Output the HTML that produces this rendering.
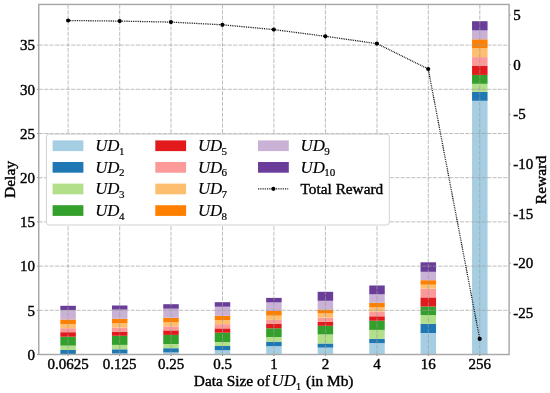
<!DOCTYPE html>
<html><head><meta charset="utf-8"><title>Delay and Reward vs Data Size</title>
<style>html,body{margin:0;padding:0;background:#fff}svg{display:block}text{font-family:"Liberation Serif", serif;font-size:15.0px;fill:#000;stroke:#000;stroke-width:0.4}.it{font-style:italic;stroke-width:0.15}.lg{font-size:15.3px}.sub{font-size:11.0px;stroke-width:0.2}.ax{font-size:15.6px}.xl{font-size:15.4px}.it.lg{font-size:15.9px}.it.xl{font-size:16px}</style></head><body>
<svg width="550" height="393" viewBox="0 0 550 393">
<rect width="550" height="393" fill="#fff"/>
<g>
<rect x="60.35" y="354.00" width="15.50" height="0.50" fill="#a6cee3"/>
<rect x="60.35" y="350.00" width="15.50" height="4.00" fill="#1f78b4"/>
<rect x="60.35" y="345.60" width="15.50" height="4.40" fill="#b2df8a"/>
<rect x="60.35" y="336.70" width="15.50" height="8.90" fill="#33a02c"/>
<rect x="60.35" y="332.20" width="15.50" height="4.50" fill="#e31a1c"/>
<rect x="60.35" y="328.20" width="15.50" height="4.00" fill="#fb9a99"/>
<rect x="60.35" y="324.00" width="15.50" height="4.20" fill="#fdbf6f"/>
<rect x="60.35" y="319.50" width="15.50" height="4.50" fill="#ff7f00"/>
<rect x="60.35" y="310.00" width="15.50" height="9.50" fill="#cab2d6"/>
<rect x="60.35" y="305.80" width="15.50" height="4.20" fill="#6a3d9a"/>
<rect x="111.95" y="353.50" width="15.50" height="1.00" fill="#a6cee3"/>
<rect x="111.95" y="349.30" width="15.50" height="4.20" fill="#1f78b4"/>
<rect x="111.95" y="344.90" width="15.50" height="4.40" fill="#b2df8a"/>
<rect x="111.95" y="335.80" width="15.50" height="9.10" fill="#33a02c"/>
<rect x="111.95" y="331.60" width="15.50" height="4.20" fill="#e31a1c"/>
<rect x="111.95" y="327.50" width="15.50" height="4.10" fill="#fb9a99"/>
<rect x="111.95" y="323.30" width="15.50" height="4.20" fill="#fdbf6f"/>
<rect x="111.95" y="318.70" width="15.50" height="4.60" fill="#ff7f00"/>
<rect x="111.95" y="309.60" width="15.50" height="9.10" fill="#cab2d6"/>
<rect x="111.95" y="305.50" width="15.50" height="4.10" fill="#6a3d9a"/>
<rect x="163.25" y="352.40" width="15.50" height="2.10" fill="#a6cee3"/>
<rect x="163.25" y="348.20" width="15.50" height="4.20" fill="#1f78b4"/>
<rect x="163.25" y="344.00" width="15.50" height="4.20" fill="#b2df8a"/>
<rect x="163.25" y="334.90" width="15.50" height="9.10" fill="#33a02c"/>
<rect x="163.25" y="330.40" width="15.50" height="4.50" fill="#e31a1c"/>
<rect x="163.25" y="326.40" width="15.50" height="4.00" fill="#fb9a99"/>
<rect x="163.25" y="322.40" width="15.50" height="4.00" fill="#fdbf6f"/>
<rect x="163.25" y="317.80" width="15.50" height="4.60" fill="#ff7f00"/>
<rect x="163.25" y="308.70" width="15.50" height="9.10" fill="#cab2d6"/>
<rect x="163.25" y="304.20" width="15.50" height="4.50" fill="#6a3d9a"/>
<rect x="214.75" y="350.20" width="15.50" height="4.30" fill="#a6cee3"/>
<rect x="214.75" y="346.00" width="15.50" height="4.20" fill="#1f78b4"/>
<rect x="214.75" y="342.00" width="15.50" height="4.00" fill="#b2df8a"/>
<rect x="214.75" y="332.70" width="15.50" height="9.30" fill="#33a02c"/>
<rect x="214.75" y="328.40" width="15.50" height="4.30" fill="#e31a1c"/>
<rect x="214.75" y="324.20" width="15.50" height="4.20" fill="#fb9a99"/>
<rect x="214.75" y="320.00" width="15.50" height="4.20" fill="#fdbf6f"/>
<rect x="214.75" y="315.80" width="15.50" height="4.20" fill="#ff7f00"/>
<rect x="214.75" y="306.70" width="15.50" height="9.10" fill="#cab2d6"/>
<rect x="214.75" y="302.20" width="15.50" height="4.50" fill="#6a3d9a"/>
<rect x="266.15" y="346.20" width="15.50" height="8.30" fill="#a6cee3"/>
<rect x="266.15" y="341.70" width="15.50" height="4.50" fill="#1f78b4"/>
<rect x="266.15" y="337.00" width="15.50" height="4.70" fill="#b2df8a"/>
<rect x="266.15" y="328.30" width="15.50" height="8.70" fill="#33a02c"/>
<rect x="266.15" y="324.00" width="15.50" height="4.30" fill="#e31a1c"/>
<rect x="266.15" y="319.90" width="15.50" height="4.10" fill="#fb9a99"/>
<rect x="266.15" y="315.60" width="15.50" height="4.30" fill="#fdbf6f"/>
<rect x="266.15" y="311.00" width="15.50" height="4.60" fill="#ff7f00"/>
<rect x="266.15" y="302.40" width="15.50" height="8.60" fill="#cab2d6"/>
<rect x="266.15" y="297.90" width="15.50" height="4.50" fill="#6a3d9a"/>
<rect x="317.65" y="347.60" width="15.50" height="6.90" fill="#a6cee3"/>
<rect x="317.65" y="343.50" width="15.50" height="4.10" fill="#1f78b4"/>
<rect x="317.65" y="334.40" width="15.50" height="9.10" fill="#b2df8a"/>
<rect x="317.65" y="325.80" width="15.50" height="8.60" fill="#33a02c"/>
<rect x="317.65" y="321.80" width="15.50" height="4.00" fill="#e31a1c"/>
<rect x="317.65" y="317.70" width="15.50" height="4.10" fill="#fb9a99"/>
<rect x="317.65" y="313.40" width="15.50" height="4.30" fill="#fdbf6f"/>
<rect x="317.65" y="309.50" width="15.50" height="3.90" fill="#ff7f00"/>
<rect x="317.65" y="300.80" width="15.50" height="8.70" fill="#cab2d6"/>
<rect x="317.65" y="291.80" width="15.50" height="9.00" fill="#6a3d9a"/>
<rect x="369.25" y="343.10" width="15.50" height="11.40" fill="#a6cee3"/>
<rect x="369.25" y="338.90" width="15.50" height="4.20" fill="#1f78b4"/>
<rect x="369.25" y="329.90" width="15.50" height="9.00" fill="#b2df8a"/>
<rect x="369.25" y="320.70" width="15.50" height="9.20" fill="#33a02c"/>
<rect x="369.25" y="316.30" width="15.50" height="4.40" fill="#e31a1c"/>
<rect x="369.25" y="311.60" width="15.50" height="4.70" fill="#fb9a99"/>
<rect x="369.25" y="307.30" width="15.50" height="4.30" fill="#fdbf6f"/>
<rect x="369.25" y="302.80" width="15.50" height="4.50" fill="#ff7f00"/>
<rect x="369.25" y="294.30" width="15.50" height="8.50" fill="#cab2d6"/>
<rect x="369.25" y="285.50" width="15.50" height="8.80" fill="#6a3d9a"/>
<rect x="420.55" y="333.00" width="15.50" height="21.50" fill="#a6cee3"/>
<rect x="420.55" y="323.90" width="15.50" height="9.10" fill="#1f78b4"/>
<rect x="420.55" y="315.10" width="15.50" height="8.80" fill="#b2df8a"/>
<rect x="420.55" y="306.50" width="15.50" height="8.60" fill="#33a02c"/>
<rect x="420.55" y="297.40" width="15.50" height="9.10" fill="#e31a1c"/>
<rect x="420.55" y="288.60" width="15.50" height="8.80" fill="#fb9a99"/>
<rect x="420.55" y="284.70" width="15.50" height="3.90" fill="#fdbf6f"/>
<rect x="420.55" y="280.20" width="15.50" height="4.50" fill="#ff7f00"/>
<rect x="420.55" y="271.80" width="15.50" height="8.40" fill="#cab2d6"/>
<rect x="420.55" y="262.30" width="15.50" height="9.50" fill="#6a3d9a"/>
<rect x="472.05" y="100.80" width="15.50" height="253.70" fill="#a6cee3"/>
<rect x="472.05" y="91.90" width="15.50" height="8.90" fill="#1f78b4"/>
<rect x="472.05" y="83.80" width="15.50" height="8.10" fill="#b2df8a"/>
<rect x="472.05" y="74.90" width="15.50" height="8.90" fill="#33a02c"/>
<rect x="472.05" y="66.00" width="15.50" height="8.90" fill="#e31a1c"/>
<rect x="472.05" y="57.10" width="15.50" height="8.90" fill="#fb9a99"/>
<rect x="472.05" y="48.20" width="15.50" height="8.90" fill="#fdbf6f"/>
<rect x="472.05" y="39.30" width="15.50" height="8.90" fill="#ff7f00"/>
<rect x="472.05" y="30.40" width="15.50" height="8.90" fill="#cab2d6"/>
<rect x="472.05" y="21.20" width="15.50" height="9.20" fill="#6a3d9a"/>
</g>
<g stroke="#9c9c9c" stroke-width="0.7" stroke-dasharray="4.1 1.3" fill="none" opacity="0.95">
<line x1="68.10" y1="354.50" x2="68.10" y2="4.45"/>
<line x1="119.70" y1="354.50" x2="119.70" y2="4.45"/>
<line x1="171.00" y1="354.50" x2="171.00" y2="4.45"/>
<line x1="222.50" y1="354.50" x2="222.50" y2="4.45"/>
<line x1="273.90" y1="354.50" x2="273.90" y2="4.45"/>
<line x1="325.40" y1="354.50" x2="325.40" y2="4.45"/>
<line x1="377.00" y1="354.50" x2="377.00" y2="4.45"/>
<line x1="428.30" y1="354.50" x2="428.30" y2="4.45"/>
<line x1="479.80" y1="354.50" x2="479.80" y2="4.45"/>
<line x1="38.75" y1="354.50" x2="509.10" y2="354.50"/>
<line x1="38.75" y1="310.30" x2="509.10" y2="310.30"/>
<line x1="38.75" y1="266.10" x2="509.10" y2="266.10"/>
<line x1="38.75" y1="221.90" x2="509.10" y2="221.90"/>
<line x1="38.75" y1="177.70" x2="509.10" y2="177.70"/>
<line x1="38.75" y1="133.50" x2="509.10" y2="133.50"/>
<line x1="38.75" y1="89.30" x2="509.10" y2="89.30"/>
<line x1="38.75" y1="45.10" x2="509.10" y2="45.10"/>
</g>
<g stroke="#777" stroke-width="1" fill="none">
<line x1="68.10" y1="354.50" x2="68.10" y2="356.00"/>
<line x1="119.70" y1="354.50" x2="119.70" y2="356.00"/>
<line x1="171.00" y1="354.50" x2="171.00" y2="356.00"/>
<line x1="222.50" y1="354.50" x2="222.50" y2="356.00"/>
<line x1="273.90" y1="354.50" x2="273.90" y2="356.00"/>
<line x1="325.40" y1="354.50" x2="325.40" y2="356.00"/>
<line x1="377.00" y1="354.50" x2="377.00" y2="356.00"/>
<line x1="428.30" y1="354.50" x2="428.30" y2="356.00"/>
<line x1="479.80" y1="354.50" x2="479.80" y2="356.00"/>
<line x1="37.25" y1="354.50" x2="38.75" y2="354.50"/>
<line x1="37.25" y1="310.30" x2="38.75" y2="310.30"/>
<line x1="37.25" y1="266.10" x2="38.75" y2="266.10"/>
<line x1="37.25" y1="221.90" x2="38.75" y2="221.90"/>
<line x1="37.25" y1="177.70" x2="38.75" y2="177.70"/>
<line x1="37.25" y1="133.50" x2="38.75" y2="133.50"/>
<line x1="37.25" y1="89.30" x2="38.75" y2="89.30"/>
<line x1="37.25" y1="45.10" x2="38.75" y2="45.10"/>
<line x1="509.10" y1="14.95" x2="510.60" y2="14.95"/>
<line x1="509.10" y1="64.60" x2="510.60" y2="64.60"/>
<line x1="509.10" y1="114.25" x2="510.60" y2="114.25"/>
<line x1="509.10" y1="163.90" x2="510.60" y2="163.90"/>
<line x1="509.10" y1="213.55" x2="510.60" y2="213.55"/>
<line x1="509.10" y1="263.20" x2="510.60" y2="263.20"/>
<line x1="509.10" y1="312.85" x2="510.60" y2="312.85"/>
</g>
<path d="M68.10 20.50 L119.70 21.10 L170.90 22.10 L222.40 24.80 L273.80 29.60 L325.40 36.30 L376.90 43.60 L428.20 69.00 L479.70 338.90" stroke="#000" stroke-width="1.3" stroke-dasharray="0.85 0.95" fill="none"/>
<circle cx="68.10" cy="20.50" r="2.1" fill="#000"/>
<circle cx="119.70" cy="21.10" r="2.1" fill="#000"/>
<circle cx="170.90" cy="22.10" r="2.1" fill="#000"/>
<circle cx="222.40" cy="24.80" r="2.1" fill="#000"/>
<circle cx="273.80" cy="29.60" r="2.1" fill="#000"/>
<circle cx="325.40" cy="36.30" r="2.1" fill="#000"/>
<circle cx="376.90" cy="43.60" r="2.1" fill="#000"/>
<circle cx="428.20" cy="69.00" r="2.1" fill="#000"/>
<circle cx="479.70" cy="338.90" r="2.1" fill="#000"/>
<rect x="38.75" y="4.45" width="470.35" height="350.05" fill="none" stroke="#a8a8a8" stroke-width="1.45"/>
<text x="68.10" y="369.40" text-anchor="middle">0.0625</text>
<text x="119.70" y="369.40" text-anchor="middle">0.125</text>
<text x="171.00" y="369.40" text-anchor="middle">0.25</text>
<text x="222.50" y="369.40" text-anchor="middle">0.5</text>
<text x="273.90" y="369.40" text-anchor="middle">1</text>
<text x="325.40" y="369.40" text-anchor="middle">2</text>
<text x="377.00" y="369.40" text-anchor="middle">4</text>
<text x="428.30" y="369.40" text-anchor="middle">16</text>
<text x="479.80" y="369.40" text-anchor="middle">256</text>
<text x="35.00" y="359.80" text-anchor="end">0</text>
<text x="35.00" y="315.60" text-anchor="end">5</text>
<text x="35.00" y="271.40" text-anchor="end">10</text>
<text x="35.00" y="227.20" text-anchor="end">15</text>
<text x="35.00" y="183.00" text-anchor="end">20</text>
<text x="35.00" y="138.80" text-anchor="end">25</text>
<text x="35.00" y="94.60" text-anchor="end">30</text>
<text x="35.00" y="50.40" text-anchor="end">35</text>
<text x="513.20" y="20.15">5</text>
<text x="513.20" y="69.80">0</text>
<text x="513.20" y="119.45">-5</text>
<text x="513.20" y="169.10">-10</text>
<text x="513.20" y="218.75">-15</text>
<text x="513.20" y="268.40">-20</text>
<text x="513.20" y="318.05">-25</text>
<text class="ax" transform="translate(14.6 179.5) rotate(-90)" text-anchor="middle">Delay</text>
<text class="ax" transform="translate(546.4 180) rotate(-90)" text-anchor="middle">Reward</text>
<text class="xl" x="193.8" y="386.2" >Data Size of</text>
<text class="it xl" transform="translate(271.40 386.20) scale(1.060 1)">UD</text>
<text class="sub" x="295.70" y="389.90">1</text>
<text class="xl" x="306.0" y="386.2">(in Mb)</text>
<rect x="46.4" y="134.2" width="342.9" height="90.8" rx="2.8" ry="2.8" fill="#fff" stroke="#d2d2d2" stroke-width="1"/>
<rect x="52.60" y="140.40" width="30.8" height="10.7" fill="#a6cee3"/>
<text class="it lg" transform="translate(95.20 151.10) scale(1.060 1)">UD</text>
<text class="sub" x="118.90" y="154.80">1</text>
<rect x="52.60" y="162.00" width="30.8" height="10.7" fill="#1f78b4"/>
<text class="it lg" transform="translate(95.20 172.70) scale(1.060 1)">UD</text>
<text class="sub" x="118.90" y="176.40">2</text>
<rect x="52.60" y="183.60" width="30.8" height="10.7" fill="#b2df8a"/>
<text class="it lg" transform="translate(95.20 194.30) scale(1.060 1)">UD</text>
<text class="sub" x="118.90" y="198.00">3</text>
<rect x="52.60" y="205.20" width="30.8" height="10.7" fill="#33a02c"/>
<text class="it lg" transform="translate(95.20 215.90) scale(1.060 1)">UD</text>
<text class="sub" x="118.90" y="219.60">4</text>
<rect x="155.30" y="140.40" width="30.8" height="10.7" fill="#e31a1c"/>
<text class="it lg" transform="translate(197.90 151.10) scale(1.060 1)">UD</text>
<text class="sub" x="221.60" y="154.80">5</text>
<rect x="155.30" y="162.00" width="30.8" height="10.7" fill="#fb9a99"/>
<text class="it lg" transform="translate(197.90 172.70) scale(1.060 1)">UD</text>
<text class="sub" x="221.60" y="176.40">6</text>
<rect x="155.30" y="183.60" width="30.8" height="10.7" fill="#fdbf6f"/>
<text class="it lg" transform="translate(197.90 194.30) scale(1.060 1)">UD</text>
<text class="sub" x="221.60" y="198.00">7</text>
<rect x="155.30" y="205.20" width="30.8" height="10.7" fill="#ff7f00"/>
<text class="it lg" transform="translate(197.90 215.90) scale(1.060 1)">UD</text>
<text class="sub" x="221.60" y="219.60">8</text>
<rect x="258.00" y="140.40" width="30.8" height="10.7" fill="#cab2d6"/>
<text class="it lg" transform="translate(300.60 151.10) scale(1.060 1)">UD</text>
<text class="sub" x="324.30" y="154.80">9</text>
<rect x="258.00" y="162.00" width="30.8" height="10.7" fill="#6a3d9a"/>
<text class="it lg" transform="translate(300.60 172.70) scale(1.060 1)">UD</text>
<text class="sub" x="324.30" y="176.40">10</text>
<line x1="258.00" y1="188.80" x2="288.80" y2="188.80" stroke="#000" stroke-width="1.3" stroke-dasharray="0.85 0.95"/>
<circle cx="273.40" cy="188.80" r="2.1" fill="#000"/>
<text class="lg" x="300.60" y="193.60">Total Reward</text>
</svg></body></html>
